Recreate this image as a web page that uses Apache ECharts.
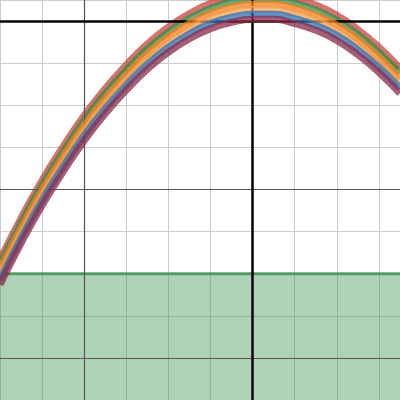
<!DOCTYPE html><html><head><script src="https://cdn.jsdelivr.net/npm/echarts@6/dist/echarts.min.js"></script></head><body style="margin:0"><div id="c" style="width:400px;height:400px"></div><script>
const xs=[-3,-2.75,-2.5,-2.25,-2,-1.75,-1.5,-1.25,-1,-0.75,-0.5,-0.25,0,0.25,0.5,0.75,1,1.25,1.5,1.75];
const ys=[-2.98,-2.49,-2.04,-1.64,-1.27,-0.95,-0.67,-0.42,-0.22,-0.06,0.06,0.135,0.17,0.17,0.12,0.04,-0.08,-0.25,-0.46,-0.71];
const offsets=[0.15,0.09,0.03,-0.03,-0.09,-0.15];
const colors=['#c74440','#388c46','#fa7e19','#f0a050','#2d70b3','#8a2a4a'];
const shadeY=-3;
const majorX=[-2], majorY=[-2,-4];
const series=offsets.map((o,i)=>({type:'line',smooth:true,symbol:'none',z:3+i,
 data:xs.map((x,j)=>[x,ys[j]+o]),lineStyle:{color:colors[i],width:7,opacity:0.75}}));
series.push({type:'line',symbol:'none',z:2,data:[[-3,shadeY],[1.75,shadeY]],
 lineStyle:{color:'#388c46',width:3,opacity:0.8},areaStyle:{color:'#388c46',opacity:0.4,origin:'start'},
 markLine:{silent:true,symbol:'none',label:{show:false},data:[
  ...majorX.map(v=>({xAxis:v,lineStyle:{color:'#555',width:1.2,type:'solid'}})),
  ...majorY.map(v=>({yAxis:v,lineStyle:{color:'#555',width:1.2,type:'solid'}})),
  {xAxis:0,lineStyle:{color:'#000',width:2.5,type:'solid'}},
  {yAxis:0,lineStyle:{color:'#000',width:2.5,type:'solid'}}]}});
echarts.init(document.getElementById('c')).setOption({animation:false,
 grid:{left:-2,right:-1.75,top:-1.25,bottom:-2.5},
 xAxis:{type:'value',min:-3,max:1.75,interval:0.5,axisLine:{show:false},axisTick:{show:false},axisLabel:{show:false},splitLine:{lineStyle:{color:'#ccc'}}},
 yAxis:{type:'value',min:-4.5,max:0.25,interval:0.5,axisLine:{show:false},axisTick:{show:false},axisLabel:{show:false},splitLine:{lineStyle:{color:'#ccc'}}},
 series});
</script></body></html>
